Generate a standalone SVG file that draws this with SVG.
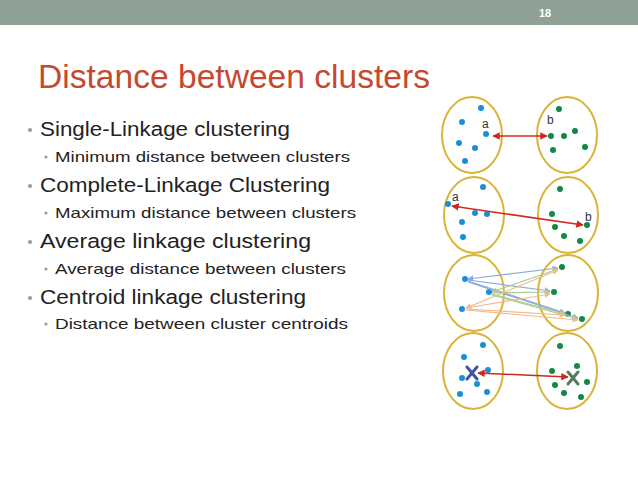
<svg xmlns="http://www.w3.org/2000/svg" width="638" height="478" viewBox="0 0 638 478">
<defs>
<style>
.b{font-family:"Liberation Sans",Arial,sans-serif;fill:#222}
.l1{font-size:20px}.l2{font-size:15px}
.bu{fill:#999}
.el{fill:#fff;stroke:#d9b437;stroke-width:2}
.bd{fill:#1b8fd6}.gd{fill:#118a45}
.lb{font-family:"Liberation Sans",Arial,sans-serif;font-size:12px;fill:#333}
</style>
<marker id="ar" viewBox="0 0 10 10" refX="9" refY="5" markerWidth="5" markerHeight="5" orient="auto-start-reverse"><path d="M0,0L10,5L0,10z" fill="#d0281f"/></marker>
<marker id="ab" viewBox="0 0 10 10" refX="9" refY="5" markerWidth="5" markerHeight="5" orient="auto-start-reverse"><path d="M0,0L10,5L0,10z" fill="#8fa9d6"/></marker>
<marker id="ag" viewBox="0 0 10 10" refX="9" refY="5" markerWidth="5" markerHeight="5" orient="auto-start-reverse"><path d="M0,0L10,5L0,10z" fill="#a6cf8a"/></marker>
<marker id="ao" viewBox="0 0 10 10" refX="9" refY="5" markerWidth="5" markerHeight="5" orient="auto-start-reverse"><path d="M0,0L10,5L0,10z" fill="#f4b88a"/></marker>
</defs>
<rect width="638" height="478" fill="#fff"/>
<rect width="638" height="25" fill="#8fa197"/>
<text x="545" y="17" font-family="Liberation Sans,Arial,sans-serif" font-size="11" font-weight="bold" fill="#fff" text-anchor="middle">18</text>
<text x="38" y="88" font-family="Liberation Sans,Arial,sans-serif" font-size="34" fill="#c5492f" textLength="392" lengthAdjust="spacingAndGlyphs">Distance between clusters</text>
<g id="bullets">
<circle class="bu" cx="30" cy="130" r="2"/><text class="b l1" x="40" y="136" textLength="250" lengthAdjust="spacingAndGlyphs">Single-Linkage clustering</text>
<circle class="bu" cx="46" cy="157" r="1.6"/><text class="b l2" x="55" y="162" textLength="295" lengthAdjust="spacingAndGlyphs">Minimum distance between clusters</text>
<circle class="bu" cx="30" cy="186" r="2"/><text class="b l1" x="40" y="192" textLength="290" lengthAdjust="spacingAndGlyphs">Complete-Linkage Clustering</text>
<circle class="bu" cx="46" cy="213" r="1.6"/><text class="b l2" x="55" y="218" textLength="301" lengthAdjust="spacingAndGlyphs">Maximum distance between clusters</text>
<circle class="bu" cx="30" cy="242" r="2"/><text class="b l1" x="40" y="248" textLength="271" lengthAdjust="spacingAndGlyphs">Average linkage clustering</text>
<circle class="bu" cx="46" cy="269" r="1.6"/><text class="b l2" x="55" y="274" textLength="291" lengthAdjust="spacingAndGlyphs">Average distance between clusters</text>
<circle class="bu" cx="30" cy="298" r="2"/><text class="b l1" x="40" y="304" textLength="266" lengthAdjust="spacingAndGlyphs">Centroid linkage clustering</text>
<circle class="bu" cx="46" cy="324" r="1.6"/><text class="b l2" x="55" y="329" textLength="293" lengthAdjust="spacingAndGlyphs">Distance between cluster centroids</text>
</g>
<g id="clusters">
<ellipse class="el" cx="472" cy="135" rx="30" ry="38"/><ellipse class="el" cx="567" cy="135" rx="30" ry="38"/>
<ellipse class="el" cx="474" cy="215" rx="30" ry="38"/><ellipse class="el" cx="568" cy="215" rx="30" ry="38"/>
<ellipse class="el" cx="474" cy="293" rx="30" ry="38"/><ellipse class="el" cx="568" cy="293" rx="30" ry="38"/>
<ellipse class="el" cx="473" cy="371" rx="30" ry="38"/><ellipse class="el" cx="567" cy="371" rx="30" ry="38"/>
</g>
<g id="dots">
<g class="bd"><circle cx="481" cy="108" r="3"/><circle cx="462" cy="122" r="3"/><circle cx="486" cy="134" r="3"/><circle cx="459" cy="143" r="3"/><circle cx="475" cy="148" r="3"/><circle cx="465" cy="161" r="3"/>
<circle cx="483" cy="187" r="3"/><circle cx="448" cy="204" r="3"/><circle cx="475" cy="213" r="3"/><circle cx="487" cy="214" r="3"/><circle cx="462" cy="222" r="3"/><circle cx="463" cy="237" r="3"/>
<circle cx="465" cy="279" r="3"/><circle cx="489" cy="292" r="3"/><circle cx="462" cy="309" r="3"/>
<circle cx="483" cy="345" r="3"/><circle cx="464" cy="357" r="3"/><circle cx="488" cy="370" r="3"/><circle cx="462" cy="378" r="3"/><circle cx="477" cy="384" r="3"/><circle cx="487" cy="392" r="3"/><circle cx="460" cy="394" r="3"/></g>
<g class="gd"><circle cx="559" cy="109" r="3"/><circle cx="551" cy="136" r="3"/><circle cx="564" cy="136" r="3"/><circle cx="575" cy="131" r="3"/><circle cx="553" cy="150" r="3"/><circle cx="585" cy="147" r="3"/>
<circle cx="560" cy="189" r="3"/><circle cx="552" cy="214" r="3"/><circle cx="555" cy="227" r="3"/><circle cx="564" cy="236" r="3"/><circle cx="580" cy="241" r="3"/><circle cx="587" cy="225" r="3"/>
<circle cx="562" cy="267" r="3"/><circle cx="554" cy="292" r="3"/><circle cx="568" cy="314" r="3"/><circle cx="582" cy="319" r="3"/>
<circle cx="560" cy="346" r="3"/><circle cx="552" cy="371" r="3"/><circle cx="577" cy="366" r="3"/><circle cx="555" cy="385" r="3"/><circle cx="564" cy="393" r="3"/><circle cx="581" cy="397" r="3"/><circle cx="587" cy="382" r="3"/></g>
</g>
<g id="labels">
<text class="lb" x="482" y="128">a</text><text class="lb" x="547" y="124">b</text>
<text class="lb" x="452" y="201">a</text><text class="lb" x="585" y="221">b</text>
</g>
<g id="connectors" fill="none" stroke-width="1.5">
<line x1="493" y1="136" x2="547" y2="136" stroke="#d0281f" marker-start="url(#ar)" marker-end="url(#ar)"/>
<line x1="452" y1="206" x2="583" y2="225" stroke="#d0281f" marker-start="url(#ar)" marker-end="url(#ar)"/>
<g stroke="#8fa9d6" stroke-width="1.2"><line x1="468" y1="279" x2="558" y2="268" marker-start="url(#ab)" marker-end="url(#ab)"/><line x1="468" y1="280" x2="550" y2="291" marker-end="url(#ab)"/><line x1="468" y1="281" x2="565" y2="313" marker-end="url(#ab)"/><line x1="468" y1="282" x2="578" y2="318" marker-end="url(#ab)"/></g>
<g stroke="#a6cf8a" stroke-width="1.2"><line x1="492" y1="292" x2="558" y2="269" marker-start="url(#ag)" marker-end="url(#ag)"/><line x1="492" y1="293" x2="550" y2="292" marker-end="url(#ag)"/><line x1="492" y1="294" x2="565" y2="314" marker-end="url(#ag)"/><line x1="492" y1="295" x2="578" y2="319" marker-end="url(#ag)"/></g>
<g stroke="#f4b88a" stroke-width="1.2"><line x1="466" y1="308" x2="558" y2="270" marker-start="url(#ao)" marker-end="url(#ao)"/><line x1="466" y1="308" x2="550" y2="294" marker-end="url(#ao)"/><line x1="466" y1="309" x2="565" y2="315" marker-end="url(#ao)"/><line x1="466" y1="310" x2="578" y2="320" marker-end="url(#ao)"/></g>
<line x1="478" y1="373" x2="568" y2="377" stroke="#d0281f" marker-start="url(#ar)" marker-end="url(#ar)"/>
</g>
<g id="centroids" stroke-width="3" stroke-linecap="round">
<path d="M467,367L477,379M477,367L467,379" stroke="#3b55a3"/>
<path d="M568,372L578,384M578,372L568,384" stroke="#5a7a5a"/>
</g>
</svg>
